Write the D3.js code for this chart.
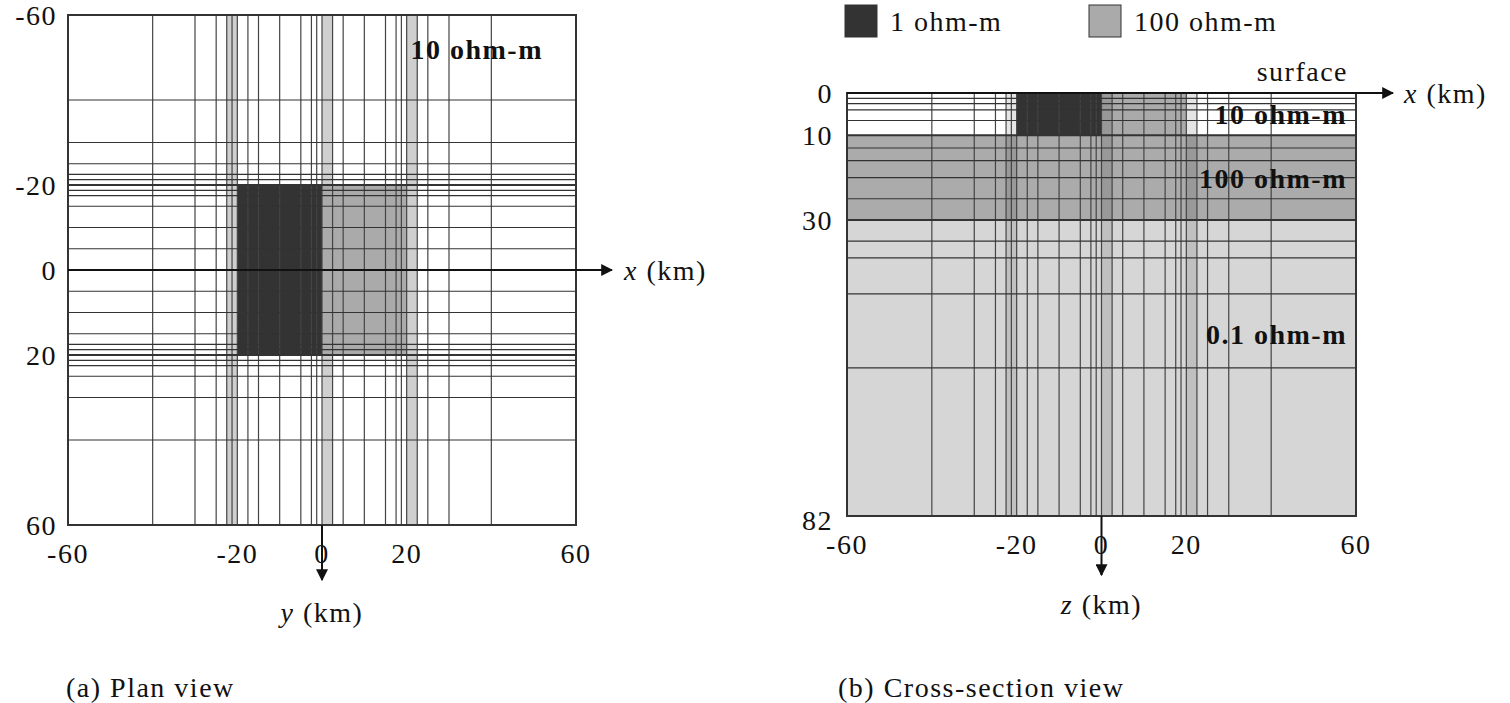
<!DOCTYPE html>
<html><head><meta charset="utf-8">
<script src="https://cdn.jsdelivr.net/npm/d3@7"></script>
<style>body{margin:0;background:#fff}text{font-family:"Liberation Serif","DejaVu Serif",serif;fill:#111;letter-spacing:1.5px}</style>
</head><body>
<svg id="c" width="1510" height="703"></svg>
<script>
// ---- data ----
const meshX = [-40,-30,-25,-22.5,-21.25,-20,-17.5,-15,-10,-5,-2.5,-1.25,0,2.5,5,10,15,17.5,18.75,20,22.5,25,30,40];
const meshY = [-40,-30,-25,-22.5,-21.25,-20,-18.75,-17.5,-15,-10,-5,0,5,10,15,17.5,18.75,20,21.25,22.5,25,30,40];
const meshZ = [1.25,2.5,4,6.5,10,13,16,20,25,30,35,39,47.5,65];
const bands = [[-22.5,-20],[0,2.5],[20,22.5]];
const xTicks = [-60,-20,0,20,60];
const yTicks = [-60,-20,0,20,60];
const zTicks = [0,10,30,100];
const zTickLabels = ["0","10","30","82"];
const legendItems = [{label:"1 ohm-m",color:"#333"},{label:"100 ohm-m",color:"#aaa"}];
const planBlocks = [[-20,0,-20,20,"#333"],[0,20,-20,20,"#aaa"]];
const layers = [[-60,60,10,30,"#ababab"],[-60,60,30,100,"#d6d6d6"],[-20,0,0,10,"#333"],[0,20,0,10,"#aaa"]];
const layerLabels = [{t:"10 ohm-m",z:5},{t:"100 ohm-m",z:20},{t:"0.1 ohm-m",z:57}];

const FS = 28;
const svg = d3.select("#c");
svg.append("defs").append("marker").attr("id","ah").attr("viewBox","0 0 10 10").attr("refX",9).attr("refY",5)
  .attr("markerWidth",6).attr("markerHeight",6).attr("orient","auto")
  .append("path").attr("d","M0,0L10,5L0,10z").attr("fill","#111");

// ---- plan view ----
const px = d3.scaleLinear().domain([-60,60]).range([68,576]);
const py = d3.scaleLinear().domain([-60,60]).range([15,525]);
const g1 = svg.append("g");
bands.forEach(b=>g1.append("rect").attr("x",px(b[0])).attr("y",15).attr("width",px(b[1])-px(b[0])).attr("height",510).attr("fill","#cfcfcf"));
planBlocks.forEach(b=>g1.append("rect").attr("x",px(b[0])).attr("y",py(b[2])).attr("width",px(b[1])-px(b[0])).attr("height",py(b[3])-py(b[2])).attr("fill",b[4]));
meshX.forEach(v=>g1.append("line").attr("x1",px(v)).attr("x2",px(v)).attr("y1",15).attr("y2",525).attr("stroke","#444").attr("stroke-width",1.2));
meshY.forEach(v=>g1.append("line").attr("y1",py(v)).attr("y2",py(v)).attr("x1",68).attr("x2",576).attr("stroke","#333").attr("stroke-width",Math.abs(v)==20?2:1.2));
g1.append("rect").attr("x",68).attr("y",15).attr("width",508).attr("height",510).attr("fill","none").attr("stroke","#333").attr("stroke-width",2);
g1.append("line").attr("x1",68).attr("x2",612).attr("y1",py(0)).attr("y2",py(0)).attr("stroke","#111").attr("stroke-width",2).attr("marker-end","url(#ah)");
g1.append("line").attr("x1",px(0)).attr("x2",px(0)).attr("y1",525).attr("y2",580).attr("stroke","#111").attr("stroke-width",2).attr("marker-end","url(#ah)");
yTicks.forEach(v=>g1.append("text").attr("x",57).attr("y",py(v)+10).attr("text-anchor","end").attr("font-size",FS).text(v));
xTicks.forEach(v=>g1.append("text").attr("x",px(v)).attr("y",563).attr("text-anchor","middle").attr("font-size",FS).text(v));
g1.append("text").attr("x",624).attr("y",py(0)+10).attr("font-size",FS).html('<tspan font-style="italic">x</tspan> (km)');
g1.append("text").attr("x",px(0)).attr("y",622).attr("text-anchor","middle").attr("font-size",FS).html('<tspan font-style="italic">y</tspan> (km)');
g1.append("text").attr("x",543).attr("y",59).attr("text-anchor","end").attr("font-size",FS).attr("font-weight","bold").attr("letter-spacing","3px").text("10 ohm-m");
g1.append("text").attr("x",66).attr("y",697).attr("font-size",FS).text("(a) Plan view");

// ---- cross-section ----
const sx = d3.scaleLinear().domain([-60,60]).range([847,1356]);
const sz = d3.scaleLinear().domain([0,100]).range([93,516]);
const g2 = svg.append("g");
layers.forEach(b=>g2.append("rect").attr("x",sx(b[0])).attr("y",sz(b[2])).attr("width",sx(b[1])-sx(b[0])).attr("height",sz(b[3])-sz(b[2])).attr("fill",b[4]));
bands.forEach(b=>g2.append("rect").attr("x",sx(b[0])).attr("y",93).attr("width",sx(b[1])-sx(b[0])).attr("height",423).attr("fill","#000").attr("opacity",0.1));
meshX.forEach(v=>g2.append("line").attr("x1",sx(v)).attr("x2",sx(v)).attr("y1",93).attr("y2",516).attr("stroke","#444").attr("stroke-width",1.2));
meshZ.forEach(v=>g2.append("line").attr("y1",sz(v)).attr("y2",sz(v)).attr("x1",847).attr("x2",1356).attr("stroke","#333").attr("stroke-width",(v==10||v==30)?2:1.2));
g2.append("rect").attr("x",847).attr("y",93).attr("width",509).attr("height",423).attr("fill","none").attr("stroke","#333").attr("stroke-width",2);
g2.append("line").attr("x1",847).attr("x2",1393).attr("y1",93).attr("y2",93).attr("stroke","#111").attr("stroke-width",2).attr("marker-end","url(#ah)");
g2.append("line").attr("x1",sx(0)).attr("x2",sx(0)).attr("y1",516).attr("y2",575).attr("stroke","#111").attr("stroke-width",2).attr("marker-end","url(#ah)");
zTicks.forEach((v,i)=>g2.append("text").attr("x",833).attr("y",sz(v)+10+(i==3?4:0)).attr("text-anchor","end").attr("font-size",FS).text(zTickLabels[i]));
xTicks.forEach(v=>g2.append("text").attr("x",sx(v)).attr("y",554).attr("text-anchor","middle").attr("font-size",FS).text(v));
g2.append("text").attr("x",1404).attr("y",103).attr("font-size",FS).html('<tspan font-style="italic">x</tspan> (km)');
g2.append("text").attr("x",sx(0)).attr("y",614).attr("text-anchor","middle").attr("font-size",FS).html('<tspan font-style="italic">z</tspan> (km)');
g2.append("text").attr("x",1348).attr("y",81).attr("text-anchor","end").attr("font-size",FS).text("surface");
layerLabels.forEach(l=>g2.append("text").attr("x",1347).attr("y",sz(l.z)+10).attr("text-anchor","end").attr("font-size",FS).attr("font-weight","bold").attr("letter-spacing","3px").text(l.t));
g2.append("text").attr("x",838).attr("y",697).attr("font-size",FS).text("(b) Cross-section view");
legendItems.forEach((d,i)=>{
  const x0 = 845 + i*244;
  g2.append("rect").attr("x",x0).attr("y",5).attr("width",32).attr("height",32).attr("fill",d.color).attr("stroke","#333");
  g2.append("text").attr("x",x0+45).attr("y",31).attr("font-size",FS).text(d.label);
});
</script>
</body></html>
